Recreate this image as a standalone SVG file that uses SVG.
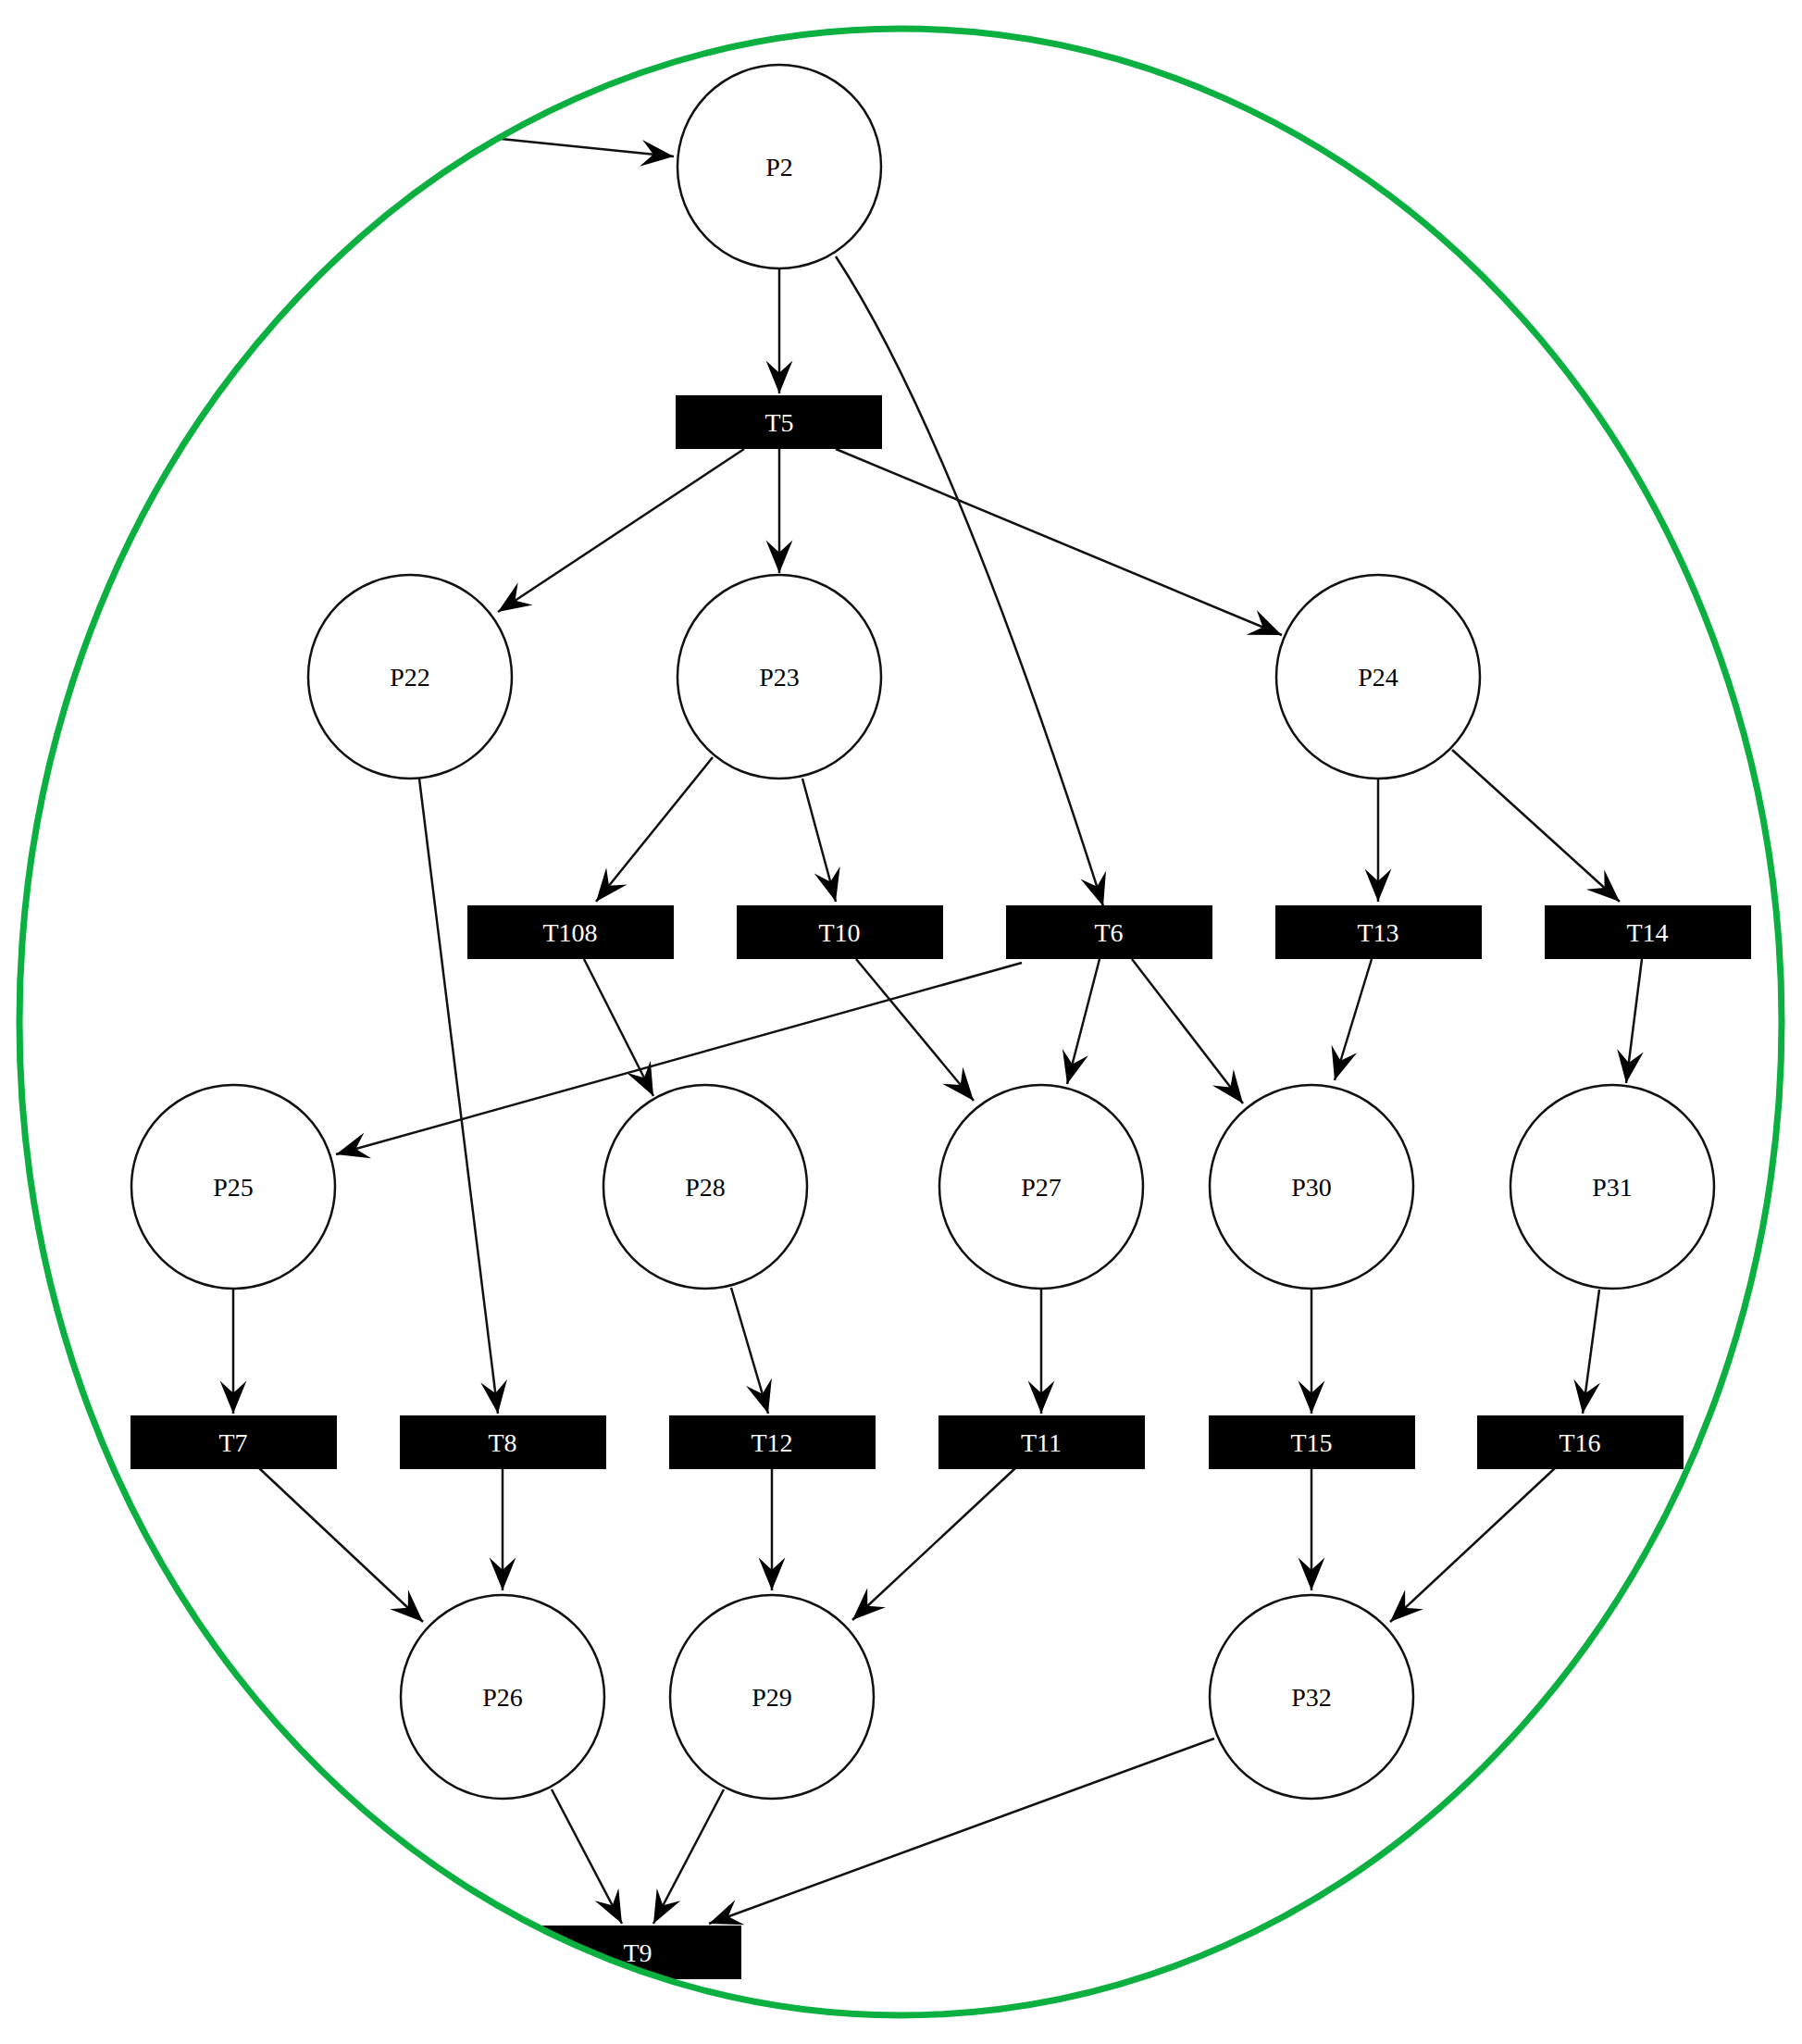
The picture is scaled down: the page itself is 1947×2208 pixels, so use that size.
<svg xmlns="http://www.w3.org/2000/svg" width="1947" height="2208" viewBox="0 0 1947 2208">
<style>
.p{fill:#fff;stroke:#111;stroke-width:2.5}
.t{fill:#000}
.lb{font-family:"Liberation Serif",serif;font-size:28px;text-anchor:middle;dominant-baseline:central;fill:#000}
.tl{fill:#fff}
.e{fill:none;stroke:#111;stroke-width:2.5;marker-end:url(#v)}
</style>
<defs>
<marker id="v" markerUnits="userSpaceOnUse" markerWidth="40" markerHeight="40" viewBox="-34 -15 36 30" refX="0" refY="0" orient="auto">
<path d="M0,0 L-32,-13 L-20,0 L-32,13 Z" fill="#000"/>
</marker>
<clipPath id="cl"><ellipse cx="973" cy="1104" rx="952" ry="1073"/></clipPath>
</defs>
<rect width="1947" height="2208" fill="#fff"/>
<g clip-path="url(#cl)">
<g id="connectors">
<path class="e" d="M541,150 L728,169"/>
<path class="e" d="M842,291 L842,425"/>
<path class="e" d="M903,277 Q1030,470 1192,979"/>
<path class="e" d="M804,485 L538,661"/>
<path class="e" d="M842,485 L842,619"/>
<path class="e" d="M903,485 L1385,686"/>
<path class="e" d="M453,841 L538,1527"/>
<path class="e" d="M770,818 L644,974"/>
<path class="e" d="M867,841 L903,974"/>
<path class="e" d="M1489,841 L1489,974"/>
<path class="e" d="M1569,810 L1750,974"/>
<path class="e" d="M631,1036 L706,1184"/>
<path class="e" d="M925,1036 L1052,1189"/>
<path class="e" d="M1104,1040 L363,1247"/>
<path class="e" d="M1188,1036 L1153,1171"/>
<path class="e" d="M1223,1036 L1343,1192"/>
<path class="e" d="M1482,1036 L1442,1167"/>
<path class="e" d="M1774,1036 L1757,1170"/>
<path class="e" d="M252,1393 L252,1527"/>
<path class="e" d="M790,1391 L830,1527"/>
<path class="e" d="M1125,1393 L1125,1527"/>
<path class="e" d="M1417,1393 L1417,1527"/>
<path class="e" d="M1728,1393 L1710,1527"/>
<path class="e" d="M280,1586 L457,1752"/>
<path class="e" d="M543,1586 L543,1718"/>
<path class="e" d="M834,1586 L834,1718"/>
<path class="e" d="M1097,1586 L921,1750"/>
<path class="e" d="M1417,1586 L1417,1718"/>
<path class="e" d="M1680,1586 L1502,1752"/>
<path class="e" d="M596,1933 L672,2078"/>
<path class="e" d="M782,1933 L706,2078"/>
<path class="e" d="M1312,1878 L766,2078"/>
</g>
<g id="P2"><circle class="p" cx="842" cy="180" r="110"/><text class="lb" x="842" y="180">P2</text></g>
<g id="P22"><circle class="p" cx="443" cy="731" r="110"/><text class="lb" x="443" y="731">P22</text></g>
<g id="P23"><circle class="p" cx="842" cy="731" r="110"/><text class="lb" x="842" y="731">P23</text></g>
<g id="P24"><circle class="p" cx="1489" cy="731" r="110"/><text class="lb" x="1489" y="731">P24</text></g>
<g id="P25"><circle class="p" cx="252" cy="1282" r="110"/><text class="lb" x="252" y="1282">P25</text></g>
<g id="P28"><circle class="p" cx="762" cy="1282" r="110"/><text class="lb" x="762" y="1282">P28</text></g>
<g id="P27"><circle class="p" cx="1125" cy="1282" r="110"/><text class="lb" x="1125" y="1282">P27</text></g>
<g id="P30"><circle class="p" cx="1417" cy="1282" r="110"/><text class="lb" x="1417" y="1282">P30</text></g>
<g id="P31"><circle class="p" cx="1742" cy="1282" r="110"/><text class="lb" x="1742" y="1282">P31</text></g>
<g id="P26"><circle class="p" cx="543" cy="1833" r="110"/><text class="lb" x="543" y="1833">P26</text></g>
<g id="P29"><circle class="p" cx="834" cy="1833" r="110"/><text class="lb" x="834" y="1833">P29</text></g>
<g id="P32"><circle class="p" cx="1417" cy="1833" r="110"/><text class="lb" x="1417" y="1833">P32</text></g>
<g id="T5"><rect class="t" x="730" y="427" width="223" height="58"/><text class="lb tl" x="842" y="456">T5</text></g>
<g id="T108"><rect class="t" x="505" y="978" width="223" height="58"/><text class="lb tl" x="616" y="1007">T108</text></g>
<g id="T10"><rect class="t" x="796" y="978" width="223" height="58"/><text class="lb tl" x="907" y="1007">T10</text></g>
<g id="T6"><rect class="t" x="1087" y="978" width="223" height="58"/><text class="lb tl" x="1198" y="1007">T6</text></g>
<g id="T13"><rect class="t" x="1378" y="978" width="223" height="58"/><text class="lb tl" x="1489" y="1007">T13</text></g>
<g id="T14"><rect class="t" x="1669" y="978" width="223" height="58"/><text class="lb tl" x="1780" y="1007">T14</text></g>
<g id="T7"><rect class="t" x="141" y="1529" width="223" height="58"/><text class="lb tl" x="252" y="1558">T7</text></g>
<g id="T8"><rect class="t" x="432" y="1529" width="223" height="58"/><text class="lb tl" x="543" y="1558">T8</text></g>
<g id="T12"><rect class="t" x="723" y="1529" width="223" height="58"/><text class="lb tl" x="834" y="1558">T12</text></g>
<g id="T11"><rect class="t" x="1014" y="1529" width="223" height="58"/><text class="lb tl" x="1125" y="1558">T11</text></g>
<g id="T15"><rect class="t" x="1306" y="1529" width="223" height="58"/><text class="lb tl" x="1417" y="1558">T15</text></g>
<g id="T16"><rect class="t" x="1596" y="1529" width="223" height="58"/><text class="lb tl" x="1707" y="1558">T16</text></g>
<g id="T9"><rect class="t" x="577" y="2080" width="224" height="58"/><text class="lb tl" x="689" y="2109">T9</text></g>
</g>
<ellipse cx="973" cy="1104" rx="952" ry="1073" fill="none" stroke="#0bb040" stroke-width="7"/>
</svg>
